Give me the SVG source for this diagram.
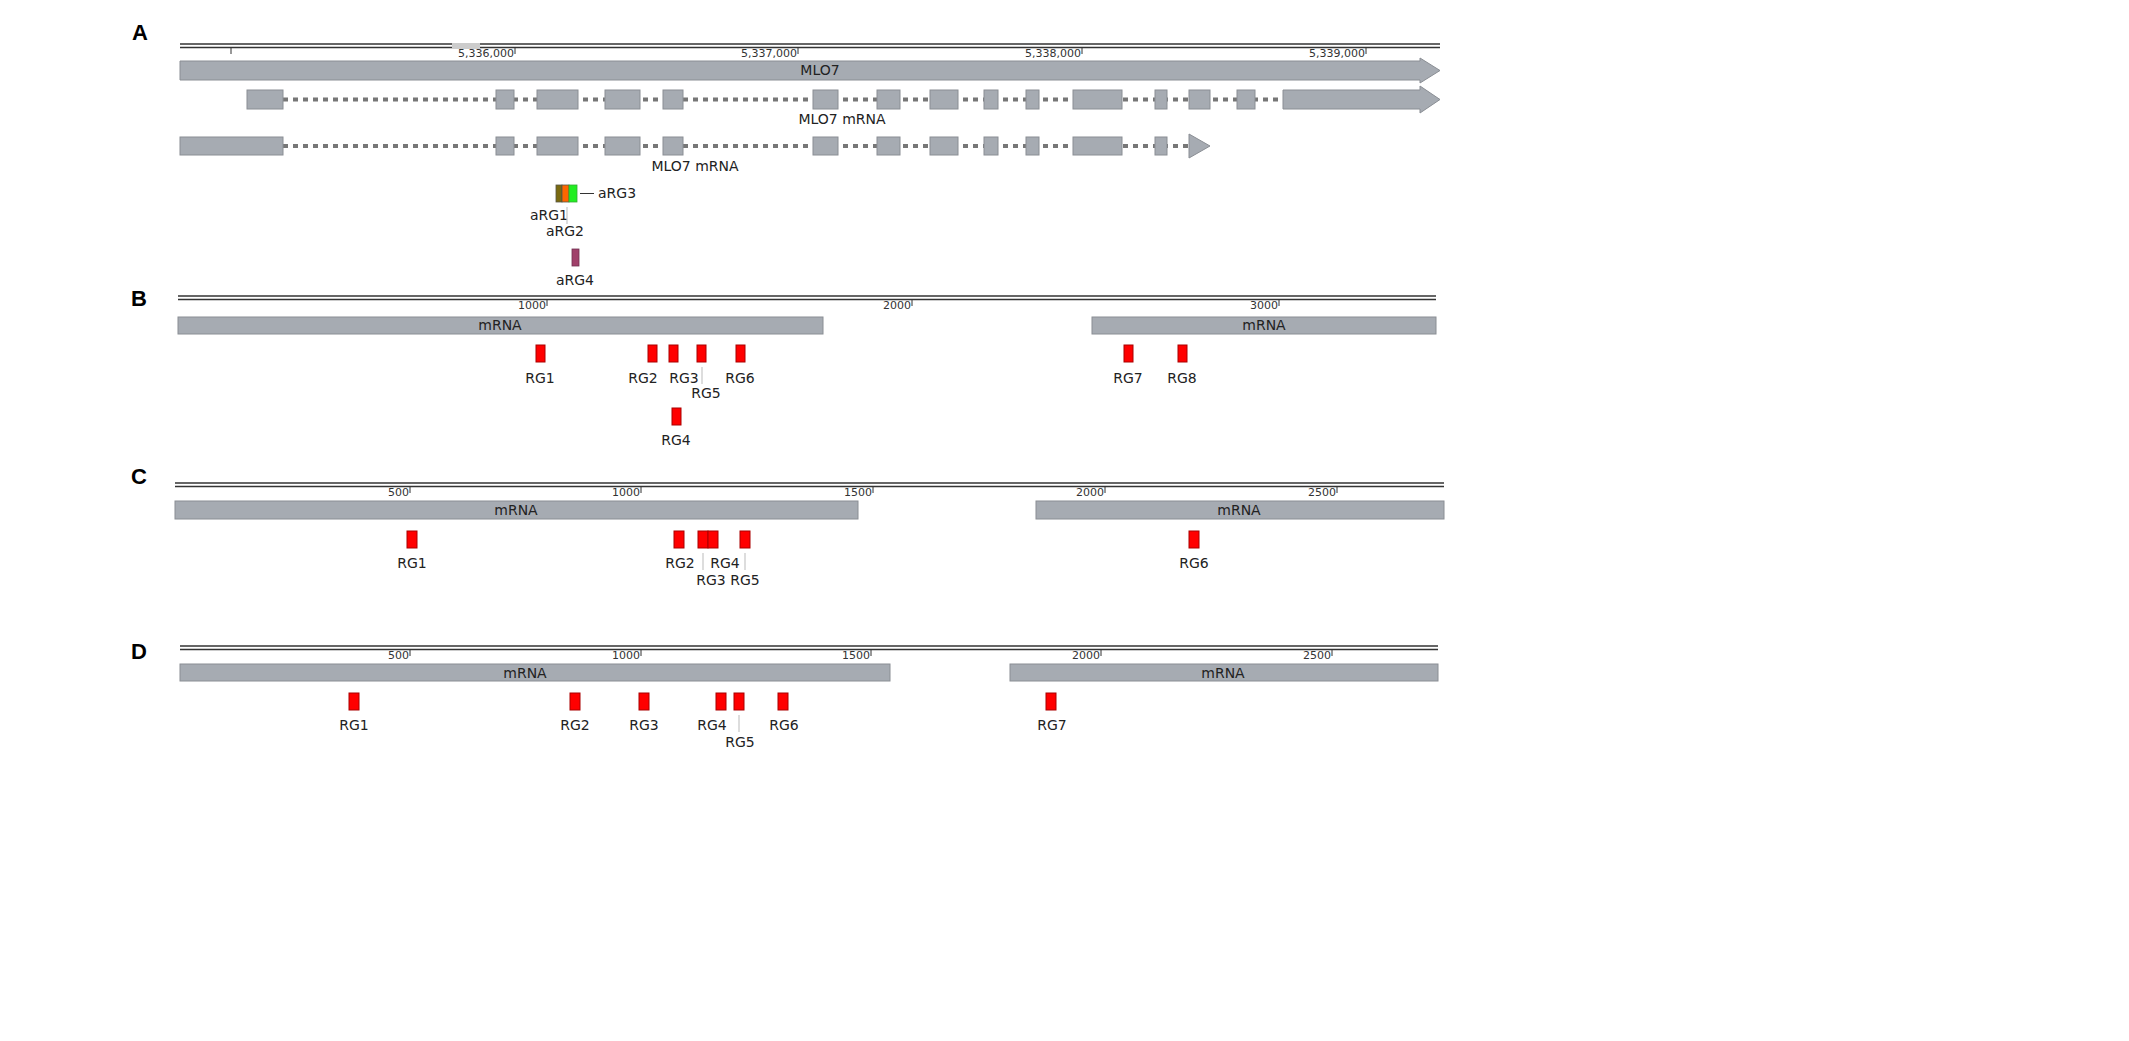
<svg xmlns="http://www.w3.org/2000/svg" width="2129" height="1041" viewBox="0 0 2129 1041">
<style>
.bar{fill:#a6abb2;stroke:#8a8e94;stroke-width:1}
.rg{fill:#f00;stroke:#a00;stroke-width:1}
.ruler{fill:none;stroke:#333;stroke-width:1.3}
.tick{stroke:#333;stroke-width:1}
.tl{font-family:"DejaVu Sans",sans-serif;font-size:11px;fill:#333;text-anchor:end}
.lb{font-family:"DejaVu Sans",sans-serif;font-size:14px;fill:#222;text-anchor:middle}
.pl{font-family:"Liberation Sans",Arial,sans-serif;font-size:22px;font-weight:bold;fill:#000}
.intron{stroke:#777;stroke-width:4;stroke-dasharray:5,5}
.lead{stroke:#bbb;stroke-width:1}
</style>
<rect width="2129" height="1041" fill="#fff"/>
<text class="pl" x="132" y="40">A</text>
<text class="pl" x="131" y="306">B</text>
<text class="pl" x="131" y="484">C</text>
<text class="pl" x="131" y="659">D</text>

<g id="rulerA">
<line class="ruler" x1="180" y1="44" x2="1440" y2="44"/><line class="ruler" x1="180" y1="47.5" x2="1440" y2="47.5"/>
<rect x="452" y="43" width="28" height="6" fill="#ccc"/>
<line class="tick" x1="231" y1="48" x2="231" y2="54"/>
<line class="tick" x1="515" y1="48" x2="515" y2="54"/><text class="tl" x="514" y="57">5,336,000</text>
<line class="tick" x1="798" y1="48" x2="798" y2="54"/><text class="tl" x="797" y="57">5,337,000</text>
<line class="tick" x1="1082" y1="48" x2="1082" y2="54"/><text class="tl" x="1081" y="57">5,338,000</text>
<line class="tick" x1="1366" y1="48" x2="1366" y2="54"/><text class="tl" x="1365" y="57">5,339,000</text>
</g>
<g id="MLO7">
<polygon class="bar" points="180,61 1420,61 1420,58 1440,70.5 1420,83 1420,80 180,80"/>
<text class="lb" x="820" y="75">MLO7</text>
</g>
<g id="mRNA1">
<line class="intron" x1="283" y1="99.5" x2="1283" y2="99.5"/>
<rect class="bar" x="247" y="90" width="36" height="19"/>
<rect class="bar" x="496" y="90" width="18" height="19"/>
<rect class="bar" x="537" y="90" width="41" height="19"/>
<rect class="bar" x="605" y="90" width="35" height="19"/>
<rect class="bar" x="663" y="90" width="20" height="19"/>
<rect class="bar" x="813" y="90" width="25" height="19"/>
<rect class="bar" x="877" y="90" width="23" height="19"/>
<rect class="bar" x="930" y="90" width="28" height="19"/>
<rect class="bar" x="984" y="90" width="14" height="19"/>
<rect class="bar" x="1026" y="90" width="13" height="19"/>
<rect class="bar" x="1073" y="90" width="49" height="19"/>
<rect class="bar" x="1155" y="90" width="12" height="19"/>
<rect class="bar" x="1189" y="90" width="21" height="19"/>
<rect class="bar" x="1237" y="90" width="18" height="19"/>
<polygon class="bar" points="1283,90 1420,90 1420,86 1440,99.5 1420,113 1420,109 1283,109"/>
<text class="lb" x="842" y="124">MLO7 mRNA</text>
</g>
<g id="mRNA2">
<line class="intron" x1="283" y1="146" x2="1189" y2="146"/>
<rect class="bar" x="180" y="137" width="103" height="18"/>
<rect class="bar" x="496" y="137" width="18" height="18"/>
<rect class="bar" x="537" y="137" width="41" height="18"/>
<rect class="bar" x="605" y="137" width="35" height="18"/>
<rect class="bar" x="663" y="137" width="20" height="18"/>
<rect class="bar" x="813" y="137" width="25" height="18"/>
<rect class="bar" x="877" y="137" width="23" height="18"/>
<rect class="bar" x="930" y="137" width="28" height="18"/>
<rect class="bar" x="984" y="137" width="14" height="18"/>
<rect class="bar" x="1026" y="137" width="13" height="18"/>
<rect class="bar" x="1073" y="137" width="49" height="18"/>
<rect class="bar" x="1155" y="137" width="12" height="18"/>
<polygon class="bar" points="1189,134 1210,146 1189,158"/>
<text class="lb" x="695" y="171">MLO7 mRNA</text>
</g>
<g id="aRG">
<rect x="556" y="185" width="6" height="17" fill="#7a6a10" stroke="#554" stroke-width="0.8"/>
<rect x="562" y="185" width="7" height="17" fill="#ff6600" stroke="#554" stroke-width="0.8"/>
<rect x="569" y="185" width="8" height="17" fill="#22ee22" stroke="#3a3" stroke-width="0.8"/>
<line x1="580" y1="193.5" x2="594" y2="193.5" stroke="#333" stroke-width="1"/>
<text class="lb" x="598" y="198" style="text-anchor:start">aRG3</text>
<text class="lb" x="549" y="220">aRG1</text>
<line class="lead" x1="567" y1="207" x2="567" y2="224"/>
<text class="lb" x="565" y="236">aRG2</text>
<rect x="572" y="249" width="7" height="17" fill="#a0406a" stroke="#703050" stroke-width="0.8"/>
<text class="lb" x="575" y="285">aRG4</text>
</g>

<g id="panelB">
<line class="ruler" x1="178" y1="296" x2="1436" y2="296"/><line class="ruler" x1="178" y1="299.5" x2="1436" y2="299.5"/>
<line class="tick" x1="547" y1="300" x2="547" y2="306"/><text class="tl" x="546" y="309">1000</text>
<line class="tick" x1="912" y1="300" x2="912" y2="306"/><text class="tl" x="911" y="309">2000</text>
<line class="tick" x1="1279" y1="300" x2="1279" y2="306"/><text class="tl" x="1278" y="309">3000</text>
<rect class="bar" x="178" y="317" width="645" height="17"/><text class="lb" x="500" y="330">mRNA</text>
<rect class="bar" x="1092" y="317" width="344" height="17"/><text class="lb" x="1264" y="330">mRNA</text>
<rect class="rg" x="536" y="345" width="9" height="17"/><text class="lb" x="540" y="383">RG1</text>
<rect class="rg" x="648" y="345" width="9" height="17"/><text class="lb" x="643" y="383">RG2</text>
<rect class="rg" x="669" y="345" width="9" height="17"/><text class="lb" x="684" y="383">RG3</text>
<rect class="rg" x="697" y="345" width="9" height="17"/><line class="lead" x1="702" y1="367" x2="702" y2="384"/><text class="lb" x="706" y="398">RG5</text>
<rect class="rg" x="736" y="345" width="9" height="17"/><text class="lb" x="740" y="383">RG6</text>
<rect class="rg" x="1124" y="345" width="9" height="17"/><text class="lb" x="1128" y="383">RG7</text>
<rect class="rg" x="1178" y="345" width="9" height="17"/><text class="lb" x="1182" y="383">RG8</text>
<rect class="rg" x="672" y="408" width="9" height="17"/><text class="lb" x="676" y="445">RG4</text>
</g>

<g id="panelC">
<line class="ruler" x1="175" y1="483" x2="1444" y2="483"/><line class="ruler" x1="175" y1="486.5" x2="1444" y2="486.5"/>
<line class="tick" x1="410" y1="487" x2="410" y2="493"/><text class="tl" x="409" y="496">500</text>
<line class="tick" x1="641" y1="487" x2="641" y2="493"/><text class="tl" x="640" y="496">1000</text>
<line class="tick" x1="873" y1="487" x2="873" y2="493"/><text class="tl" x="872" y="496">1500</text>
<line class="tick" x1="1105" y1="487" x2="1105" y2="493"/><text class="tl" x="1104" y="496">2000</text>
<line class="tick" x1="1337" y1="487" x2="1337" y2="493"/><text class="tl" x="1336" y="496">2500</text>
<rect class="bar" x="175" y="501" width="683" height="18"/><text class="lb" x="516" y="515">mRNA</text>
<rect class="bar" x="1036" y="501" width="408" height="18"/><text class="lb" x="1239" y="515">mRNA</text>
<rect class="rg" x="407" y="531" width="10" height="17"/><text class="lb" x="412" y="568">RG1</text>
<rect class="rg" x="674" y="531" width="10" height="17"/><text class="lb" x="680" y="568">RG2</text>
<rect class="rg" x="698" y="531" width="10" height="17"/>
<rect class="rg" x="708" y="531" width="10" height="17"/><text class="lb" x="725" y="568">RG4</text>
<line class="lead" x1="703" y1="553" x2="703" y2="570"/><text class="lb" x="711" y="585">RG3</text>
<rect class="rg" x="740" y="531" width="10" height="17"/><line class="lead" x1="745" y1="553" x2="745" y2="570"/><text class="lb" x="745" y="585">RG5</text>
<rect class="rg" x="1189" y="531" width="10" height="17"/><text class="lb" x="1194" y="568">RG6</text>
</g>

<g id="panelD">
<line class="ruler" x1="180" y1="646" x2="1438" y2="646"/><line class="ruler" x1="180" y1="649.5" x2="1438" y2="649.5"/>
<line class="tick" x1="410" y1="650" x2="410" y2="656"/><text class="tl" x="409" y="659">500</text>
<line class="tick" x1="641" y1="650" x2="641" y2="656"/><text class="tl" x="640" y="659">1000</text>
<line class="tick" x1="871" y1="650" x2="871" y2="656"/><text class="tl" x="870" y="659">1500</text>
<line class="tick" x1="1101" y1="650" x2="1101" y2="656"/><text class="tl" x="1100" y="659">2000</text>
<line class="tick" x1="1332" y1="650" x2="1332" y2="656"/><text class="tl" x="1331" y="659">2500</text>
<rect class="bar" x="180" y="664" width="710" height="17"/><text class="lb" x="525" y="678">mRNA</text>
<rect class="bar" x="1010" y="664" width="428" height="17"/><text class="lb" x="1223" y="678">mRNA</text>
<rect class="rg" x="349" y="693" width="10" height="17"/><text class="lb" x="354" y="730">RG1</text>
<rect class="rg" x="570" y="693" width="10" height="17"/><text class="lb" x="575" y="730">RG2</text>
<rect class="rg" x="639" y="693" width="10" height="17"/><text class="lb" x="644" y="730">RG3</text>
<rect class="rg" x="716" y="693" width="10" height="17"/><text class="lb" x="712" y="730">RG4</text>
<rect class="rg" x="734" y="693" width="10" height="17"/><line class="lead" x1="739" y1="715" x2="739" y2="732"/><text class="lb" x="740" y="747">RG5</text>
<rect class="rg" x="778" y="693" width="10" height="17"/><text class="lb" x="784" y="730">RG6</text>
<rect class="rg" x="1046" y="693" width="10" height="17"/><text class="lb" x="1052" y="730">RG7</text>
</g>
</svg>
